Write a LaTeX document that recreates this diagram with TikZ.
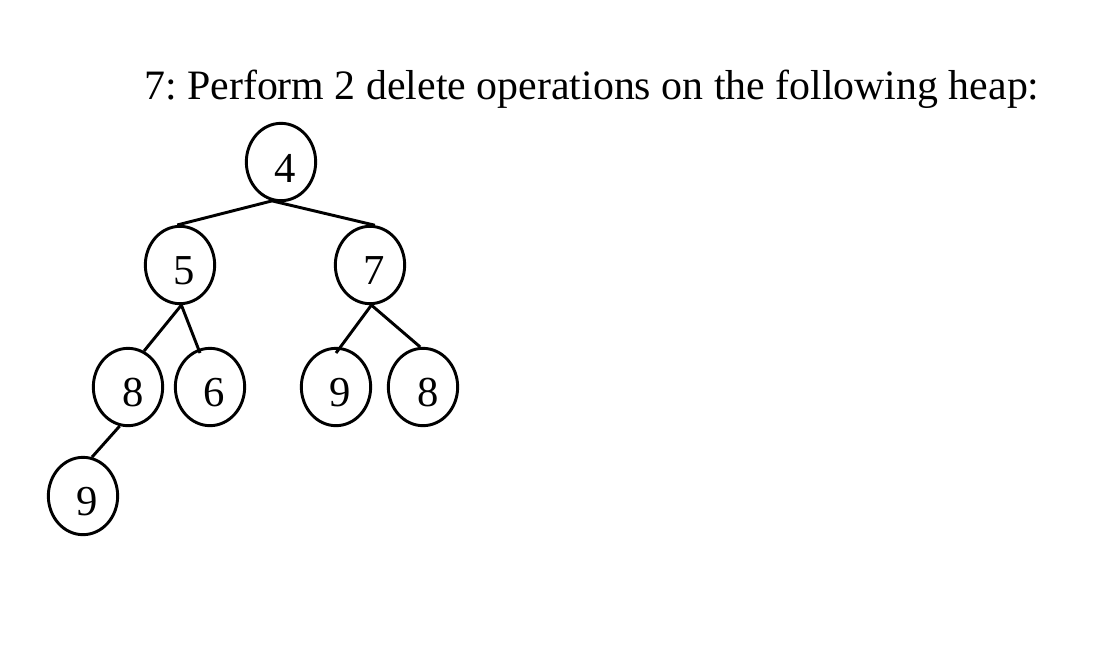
\documentclass[tikz,border=0pt]{standalone}
\usepackage{fontspec}
\setmainfont{Liberation Serif}
\usetikzlibrary{shapes.geometric}
\begin{document}
\frenchspacing
\begin{tikzpicture}[x=0.75pt,y=-0.75pt,
  heapnode/.style={draw,ellipse,line width=2.2pt,minimum width=52pt,minimum height=58pt,inner sep=0pt},
  digit/.style={font=\fontsize{32}{32}\selectfont,inner sep=0pt},
  edge/.style={line width=2.2pt}]
\useasboundingbox (0,0) rectangle (1120,654);
\node[anchor=base west,inner sep=0pt,font=\fontsize{31.4}{33}\selectfont] (title) at (144,99) {7: Perform 2 delete operations on the following heap:};
\node[heapnode] (n4) at (281,162) {};
\node[heapnode] (n5) at (180,265) {};
\node[heapnode] (n7) at (370,265) {};
\node[heapnode] (n8a) at (128,387) {};
\node[heapnode] (n6) at (210,387) {};
\node[heapnode] (n9a) at (336,387) {};
\node[heapnode] (n8b) at (423,387) {};
\node[heapnode] (n9b) at (83,496) {};
\node[digit] (t4) at (285,168) {4};
\node[digit] (t5) at (184,271) {5};
\node[digit] (t7) at (374,271) {7};
\node[digit] (t8a) at (133,393) {8};
\node[digit] (t6) at (214,393) {6};
\node[digit] (t9a) at (340,393) {9};
\node[digit] (t8b) at (428,393) {8};
\node[digit] (t9b) at (87,502) {9};
\draw[edge] (n4.257) -- (n5.94);
\draw[edge] (n4.257) -- (n7.83);
\draw[edge] (n5.272) -- (n8a.66);
\draw[edge] (n5.272) -- ([shift={(-10,-34)}]n6.center);
\draw[edge] (n7.272) -- ([shift={(0,-34)}]n9a.center);
\draw[edge] (n7.272) -- (n8b.94);
\draw[edge] (n8a.258) -- (n9b.77);
\end{tikzpicture}
\end{document}
